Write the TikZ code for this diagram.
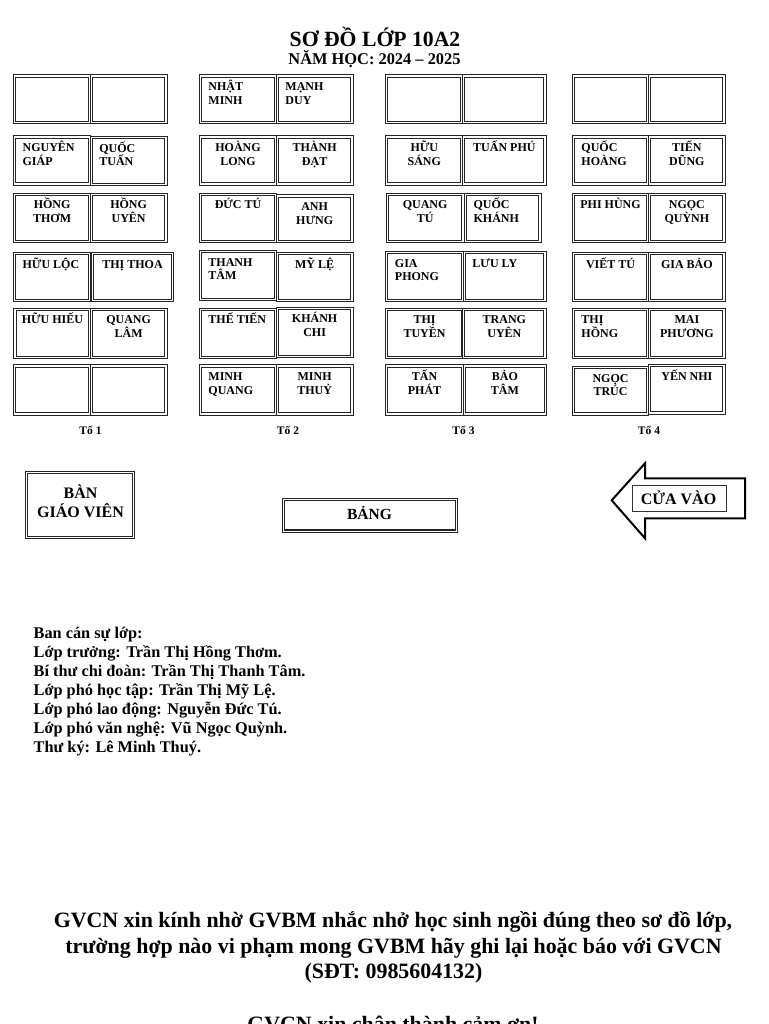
\documentclass[tikz,border=0pt]{standalone}
\usepackage{fontspec}
\setmainfont{Liberation Serif}
\newcommand\deskfont{\fontsize{12}{13.4}\selectfont\bfseries}
\newcommand\fstrut{\rule{0pt}{12pt}}
\tikzset{
  deskbox/.style={rectangle, draw=black!85, double=white, double distance=1.1pt, line width=1.1pt, inner sep=0pt},
  dtxt/.style={font=\deskfont, inner sep=0pt},
  tolabel/.style={font=\fontsize{11.5}{13}\selectfont\bfseries, inner sep=0pt, anchor=base},
  plain/.style={inner sep=0pt, font=\bfseries},
}
% empty desk: name, x1, x2, y1, y2
\newcommand\dE[5]{\node[deskbox, minimum width={#3-#2}, minimum height={#5-#4}] (#1) at ({(#2+#3)/2},{(#4+#5)/2}) {};}
% desk with left text
\newcommand\dL[6]{\dE{#1}{#2}{#3}{#4}{#5}\node[dtxt, anchor=north west, align=left] (#1t) at ([shift={(8.5pt,-3pt)}]#1.north west) {\fstrut#6};}
% desk with centred text
\newcommand\dC[6]{\dE{#1}{#2}{#3}{#4}{#5}\node[dtxt, anchor=north, align=center] (#1t) at ([shift={(0pt,-3pt)}]#1.north) {\fstrut#6};}
\begin{document}
\begin{tikzpicture}[x=1pt, y=-1pt]
\useasboundingbox (0,0) rectangle (768,1024);
\fill[white] (0,0) rectangle (768,1024);

% title
\node[plain, anchor=base, font=\fontsize{21.7}{24}\selectfont\bfseries] (title) at (375,46.5) {SƠ ĐỒ LỚP 10A2};
\node[plain, anchor=base, font=\fontsize{16.4}{18}\selectfont\bfseries] (year) at (374.5,65) {NĂM HỌC: 2024 – 2025};

% ---- To 1 ----
\dE{a1}{14.5}{89.8}{76}{122.5}
\dE{b1}{91.2}{166}{76}{122.5}
\dL{a2}{14.5}{89.8}{137}{184}{NGUYÊN\\GIÁP}
\dL{b2}{91.2}{166}{137.5}{184.5}{QUỐC\\TUẤN}
\dC{a3}{14.5}{89.8}{194.3}{241.7}{HỒNG\\THƠM}
\dC{b3}{91.2}{166}{194.3}{241.7}{HỒNG\\UYÊN}
\dL{a4}{14.5}{89.8}{253.7}{300.7}{HỮU LỘC}
\dC{b4}{92.5}{172.5}{253.7}{300.7}{THỊ THOA}
\dC{a5}{15}{89.8}{309.3}{357.3}{HỮU HIẾU}
\dC{b5}{91.2}{166}{309.3}{357.3}{QUANG\\LÂM}
\dE{a6}{14.5}{89.8}{366}{414}
\dE{b6}{91.2}{166}{366}{414}

% ---- To 2 ----
\dL{c1}{200.3}{275.8}{76}{122.5}{NHẬT\\MINH}
\dL{d1}{277.3}{352}{76}{122.5}{MẠNH\\DUY}
\dC{c2}{200.3}{275.8}{137}{184}{HOÀNG\\LONG}
\dC{d2}{277.3}{352}{137}{184}{THÀNH\\ĐẠT}
\dC{c3}{200.3}{275.8}{194.3}{241.7}{ĐỨC TÚ}
\dC{d3}{277.3}{352}{196}{241.7}{ANH\\HƯNG}
\dL{c4}{200.3}{275.8}{251.5}{299.5}{THANH\\TÂM}
\dC{d4}{277.3}{352}{253.7}{300.7}{MỸ LỆ}
\dL{c5}{200.3}{275.8}{309.3}{357.3}{THẾ TIẾN}
\dC{d5}{277.3}{352}{308.3}{356.3}{KHÁNH\\CHI}
\dL{c6}{200.3}{275.8}{366}{414}{MINH\\QUANG}
\dC{d6}{277.3}{352}{366}{414}{MINH\\THUỶ}

% ---- To 3 ----
\dE{e1}{386.8}{461.8}{76}{122.5}
\dE{f1}{463.8}{545}{76}{122.5}
\dC{e2}{386.8}{461.8}{137}{184}{HỮU\\SÁNG}
\dC{f2}{463.8}{545}{137}{184}{TUẤN PHÚ}
\dC{e3}{387.3}{463}{194.3}{241.7}{QUANG\\TÚ}
\dL{f3}{465.5}{540}{194.3}{241.7}{QUỐC\\KHÁNH}
\dL{e4}{386.8}{462.3}{252.5}{300.7}{GIA\\PHONG}
\dL{f4}{464.3}{545}{252.5}{300.7}{LƯU LY}
\dC{e5}{386.8}{462.3}{309.3}{357.3}{THỊ\\TUYỀN}
\dC{f5}{463.8}{545}{309.3}{357.3}{TRANG\\UYÊN}
\dC{e6}{386.8}{462.3}{366}{414}{TẤN\\PHÁT}
\dC{f6}{464.3}{545.5}{366}{414}{BẢO\\TÂM}

% ---- To 4 ----
\dE{g1}{573.3}{647.8}{76}{122.5}
\dE{h1}{649.8}{724}{76}{122.5}
\dL{g2}{573.3}{647.8}{137}{184}{QUỐC\\HOÀNG}
\dC{h2}{649.8}{724}{137}{184}{TIẾN\\DŨNG}
\dC{g3}{573.3}{647.8}{194.3}{241.7}{PHI HÙNG}
\dC{h3}{649.8}{724}{194.3}{241.7}{NGỌC\\QUỲNH}
\dC{g4}{573.3}{647.8}{253.7}{300.7}{VIẾT TÚ}
\dC{h4}{649.8}{724}{253.7}{300.7}{GIA BẢO}
\dL{g5}{573.3}{647.8}{309.3}{357.3}{THỊ\\HỒNG}
\dC{h5}{649.8}{724}{309.3}{357.3}{MAI\\PHƯƠNG}
\dC{g6}{573.3}{647.8}{367.5}{414}{NGỌC\\TRÚC}
\dC{h6}{649.8}{724}{365.5}{413}{YẾN NHI}

% group labels
\node[tolabel] (to1) at (90.5,434.5) {Tổ 1};
\node[tolabel] (to2) at (288,434.5) {Tổ 2};
\node[tolabel] (to3) at (463.5,434.5) {Tổ 3};
\node[tolabel] (to4) at (649,434.5) {Tổ 4};

% teacher desk
\node[deskbox, minimum width=107.5pt, minimum height=64.5pt] (gv) at (80,505) {};
\node[plain, anchor=base, font=\fontsize{16}{19}\selectfont\bfseries] (gv1) at (80.5,498.3) {BÀN};
\node[plain, anchor=base, font=\fontsize{16}{19}\selectfont\bfseries] (gv2) at (80.5,517.3) {GIÁO VIÊN};

% board
\node[deskbox, minimum width=172.5pt, minimum height=31.5pt] (bang) at (370,515.3) {};
\node[plain, anchor=base, font=\fontsize{15.5}{18}\selectfont\bfseries] (bangt) at (369.5,519.5) {BẢNG};

% entrance arrow
\draw[line width=2pt, line join=miter] (611.7,500.3) -- (645,463.3) -- (645,478.3) -- (745,478.3)
   -- (745,518.3) -- (645,518.3) -- (645,538.3) -- cycle;
\node[rectangle, draw=black!80, line width=0.8pt, minimum width=94pt, minimum height=26.5pt, inner sep=0pt] (cua) at (679,498.4) {};
\node[plain, anchor=base, font=\fontsize{16}{19}\selectfont\bfseries] (cuat) at (678.5,504.5) {CỬA VÀO};

% class committee
\node[plain, anchor=north west, align=left, font=\fontsize{16.3}{19}\selectfont\bfseries] (bcs) at (33.5,624.5) {\rule{0pt}{14pt}Ban cán sự lớp:\\
Lớp trưởng: Trần Thị Hồng Thơm.\\
Bí thư chi đoàn: Trần Thị Thanh Tâm.\\
Lớp phó học tập: Trần Thị Mỹ Lệ.\\
Lớp phó lao động: Nguyễn Đức Tú.\\
Lớp phó văn nghệ: Vũ Ngọc Quỳnh.\\
Thư ký: Lê Minh Thuý.};

% note
\tikzset{note/.style={plain, anchor=base, font=\fontsize{21.9}{26}\selectfont\bfseries}}
\node[note] (n1) at (393,927) {GVCN xin kính nhờ GVBM nhắc nhở học sinh ngồi đúng theo sơ đồ lớp,};
\node[note] (n2) at (393.5,953) {trường hợp nào vi phạm mong GVBM hãy ghi lại hoặc báo với GVCN};
\node[note] (n3) at (393.5,978.5) {(SĐT: 0985604132)};
\node[note] (n5) at (393,1031) {GVCN xin chân thành cảm ơn!};
\end{tikzpicture}
\end{document}
